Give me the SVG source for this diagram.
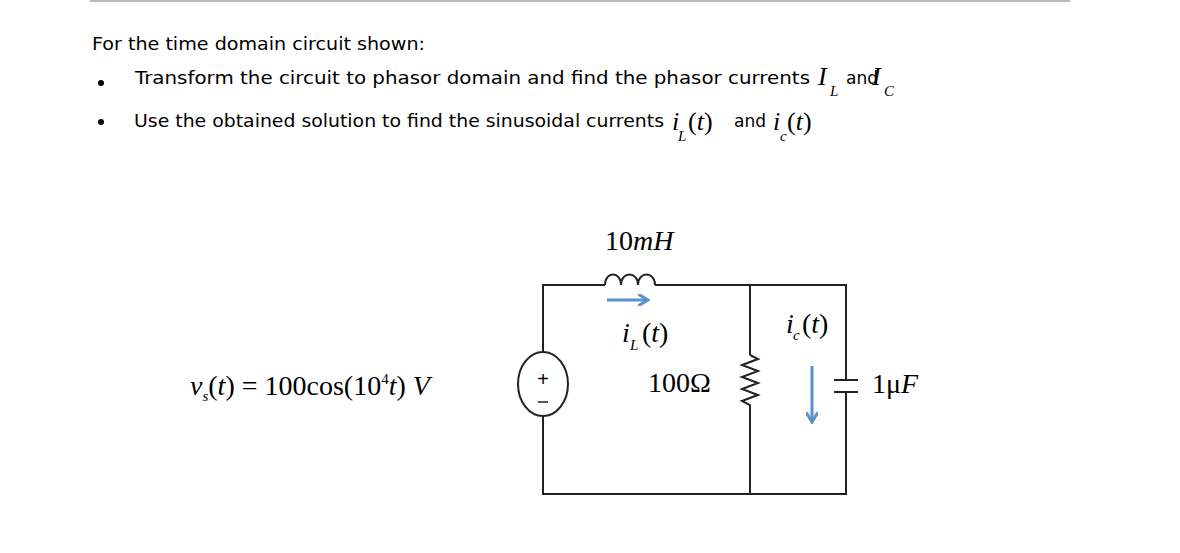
<svg xmlns="http://www.w3.org/2000/svg" width="1180" height="553" viewBox="0 0 1180 553">
<style>
.t{font-family:"DejaVu Sans",sans-serif;font-size:17px;fill:#000}
.i{font-family:"Liberation Serif",serif;font-style:italic;fill:#000}
.m{font-family:"Liberation Serif",serif;font-size:28px;fill:#000}
.w{stroke:#222;stroke-width:2;fill:none}
.b{stroke:#5b8fce;stroke-width:3;fill:none}
</style>
<defs><marker id="a" markerWidth="12" markerHeight="12" refX="9" refY="6" orient="auto" markerUnits="userSpaceOnUse"><path d="M0,0 L10,6 L0,12" fill="none" stroke="#5b8fce" stroke-width="3"/></marker></defs>
<rect width="1180" height="553" fill="#fff"/>
<line x1="90" y1="1" x2="1070" y2="1" stroke="#bbb" stroke-width="2"/>
<g id="text">
<text class="t" x="92" y="50" textLength="333" lengthAdjust="spacingAndGlyphs">For the time domain circuit  shown:</text>
<circle cx="101" cy="83" r="3"/><circle cx="101" cy="122" r="3"/>
<text class="t" x="135" y="84" textLength="675" lengthAdjust="spacingAndGlyphs">Transform the circuit to phasor domain and find the phasor currents</text>
<text class="i" x="818" y="85" font-size="26">I</text><text class="i" x="830" y="96" font-size="15">L</text>
<text class="t" x="846" y="84" textLength="32" lengthAdjust="spacingAndGlyphs">and</text>
<text class="i" x="872" y="85" font-size="26">I</text><text class="i" x="884" y="96" font-size="15">C</text>
<text class="t" x="134" y="127" textLength="530" lengthAdjust="spacingAndGlyphs">Use the obtained solution to find the sinusoidal currents</text>
<text class="i" x="672" y="130" font-size="26">i</text><text class="i" x="678" y="141" font-size="15">L</text>
<text x="688" y="130" font-family="Liberation Serif" font-size="26">(<tspan font-style="italic">t</tspan>)</text>
<text class="t" x="734" y="127" textLength="32" lengthAdjust="spacingAndGlyphs">and</text>
<text class="i" x="773" y="130" font-size="26">i</text><text class="i" x="780" y="141" font-size="15">c</text>
<text x="787" y="130" font-family="Liberation Serif" font-size="26">(<tspan font-style="italic">t</tspan>)</text>
</g>
<g id="connectors">
<path class="w" d="M605,285 H543 V352 M543,416 V494 H846 V392 M846,380 V285 H655"/>
<path class="w" d="M750,285 V355 M750,410 V494"/>
<line class="b" x1="607" y1="300" x2="647" y2="300" marker-end="url(#a)"/>
<line class="b" x1="812" y1="366" x2="812" y2="421" marker-end="url(#a)"/>
</g>
<g id="inductor"><path class="w" d="M605,285 c0,-14 16,-14 16,0 c0,-14 17,-14 17,0 c0,-14 17,-14 17,0"/>
<text class="m" x="605" y="250">10<tspan font-style="italic">mH</tspan></text>
<text class="i" x="622" y="342" font-size="28">i</text><text class="i" x="630" y="350" font-size="15">L</text>
<text class="m" x="642" y="342">(<tspan font-style="italic">t</tspan>)</text></g>
<g id="source"><ellipse class="w" cx="543" cy="384" rx="25" ry="32"/>
<text x="543" y="386" font-family="Liberation Sans" font-size="20" text-anchor="middle">+</text>
<line x1="538" y1="402" x2="548" y2="402" stroke="#222" stroke-width="1.5"/>
<text class="m" x="190" y="395" font-size="30"><tspan font-style="italic">v</tspan><tspan font-style="italic" font-size="15" dy="6">s</tspan><tspan dy="-6">(<tspan font-style="italic">t</tspan>) = 100cos(10</tspan><tspan font-size="15" dy="-11">4</tspan><tspan font-style="italic" dy="11">t</tspan>) <tspan font-style="italic">V</tspan></text></g>
<g id="resistor"><path class="w" d="M750,355 l8,4 l-16,6 l16,6 l-16,6 l16,6 l-16,6 l16,6 l-16,6 l8,4 V410"/>
<text class="m" x="648" y="392">100Ω</text></g>
<g id="capacitor"><path class="w" d="M834,380 H858 M834,392 H858"/>
<text class="i" x="786" y="333" font-size="28">i</text><text class="i" x="793" y="340" font-size="15">c</text>
<text class="m" x="802" y="333">(<tspan font-style="italic">t</tspan>)</text>
<text class="m" x="872" y="393">1μ<tspan font-style="italic">F</tspan></text></g>
</svg>
